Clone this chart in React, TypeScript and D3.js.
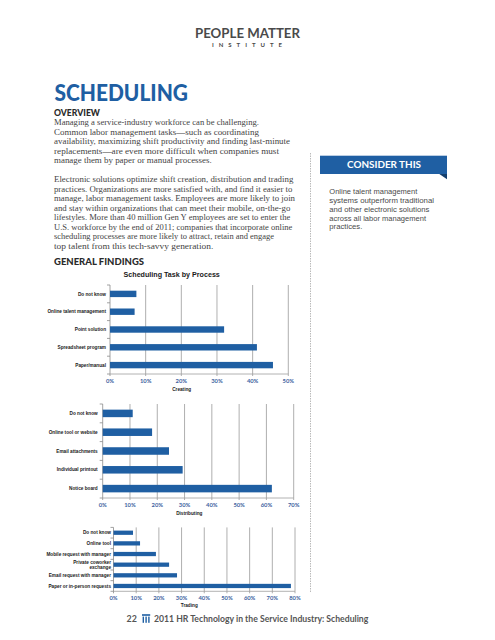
import React from "react";
import * as d3 from "d3";

// ---------- data ----------
const creatingCategories = ["Do not know", "Online talent management", "Point solution", "Spreadsheet program", "Paper/manual"];
const creatingValues = [7.4, 6.9, 32.0, 41.2, 45.7];
const creatingTicks = [0, 10, 20, 30, 40, 50];

const distributingCategories = ["Do not know", "Online tool or website", "Email attachments", "Individual printout", "Notice board"];
const distributingValues = [11.0, 18.1, 24.3, 29.3, 62.0];
const distributingTicks = [0, 10, 20, 30, 40, 50, 60, 70];

const tradingCategories = ["Do not know", "Online tool", "Mobile request with manager", "Private coworker exchange", "Email request with manager", "Paper or in-person requests"];
const tradingValues = [8.6, 11.7, 18.7, 24.5, 28.0, 78.2];
const tradingTicks = [0, 10, 20, 30, 40, 50, 60, 70, 80];
const tradingLabelLines: Record<string, string[]> = { "Private coworker exchange": ["Private coworker", "exchange"] };

const overviewP1 = [
  "Managing a service-industry workforce can be challenging.",
  "Common labor management tasks\u2014such as coordinating",
  "availability, maximizing shift productivity and finding last-minute",
  "replacements\u2014are even more difficult when companies must",
  "manage them by paper or manual processes.",
];
const overviewP2 = [
  "Electronic solutions optimize shift creation, distribution and trading",
  "practices. Organizations are more satisfied with, and find it easier to",
  "manage, labor management tasks. Employees are more likely to join",
  "and stay within organizations that can meet their mobile, on-the-go",
  "lifestyles. More than 40 million Gen Y employees are set to enter the",
  "U.S. workforce by the end of 2011; companies that incorporate online",
  "scheduling processes are more likely to attract, retain and engage",
  "top talent from this tech-savvy generation.",
];
const considerLines = [
  "Online talent management",
  "systems outperform traditional",
  "and other electronic solutions",
  "across all labor management",
  "practices.",
];

// ---------- layout (widths of text lines) ----------
const p1Widths = [205, 205, 236, 225, 157.7];
const p2Widths = [239.3, 238.3, 241, 236.3, 236.3, 238.3, 220, 159.3];
const considerWidths = [88, 104.7, 100, 96.7, 33];

const BLUE = "#1f5fa3";
const DARK_BLUE = "#143f6e";
const TICK_COLOR = "#3d62a0";
const SANS = "'Liberation Sans', Arial, sans-serif";
const HEAD = "Lato, 'Liberation Sans', sans-serif";
const SERIF = "'Liberation Serif', 'Times New Roman', serif";

type ChartProps = {
  categories: string[];
  values: number[];
  ticks: number[];
  x0: number;
  x1: number;
  y0: number;
  y1: number;
  pad: number;
  labelGap: number;
  xLabel: string;
  xLabelX: number;
  tickDy: number;
  xLabelDy: number;
  labelLines?: Record<string, string[]>;
};

function HBarChart(p: ChartProps) {
  const max = p.ticks[p.ticks.length - 1];
  const x = d3.scaleLinear().domain([0, max]).range([p.x0, p.x1]);
  const y = d3
    .scaleBand<string>()
    .domain(p.categories)
    .range([p.y0, p.y1])
    .paddingInner(p.pad)
    .paddingOuter(p.pad / 2);
  const step = y.step();
  const bw = y.bandwidth();
  return (
    <g>
      {p.ticks
        .filter((t) => t > 0)
        .map((t) => (
          <line key={"g" + t} x1={x(t)} x2={x(t)} y1={p.y0} y2={p.y1 + 2} stroke="#9a9a9a" strokeWidth={0.8} />
        ))}
      <line x1={p.x0} x2={p.x0} y1={p.y0} y2={p.y1 + 2} stroke="#8a8a8a" strokeWidth={0.8} />
      <line x1={p.x0} x2={p.x1} y1={p.y1} y2={p.y1} stroke="#a0a0a0" strokeWidth={0.8} />
      {d3.range(p.categories.length + 1).map((i) => (
        <line key={"lt" + i} x1={p.x0 - 3} x2={p.x0} y1={p.y0 + step * i} y2={p.y0 + step * i} stroke="#8a8a8a" strokeWidth={0.8} />
      ))}
      {p.categories.map((c, i) => (
        <rect key={"b" + c} x={x(0)} y={y(c)} width={x(p.values[i]) - x(0)} height={bw} fill={BLUE} />
      ))}
      {p.categories.map((c) => {
        const cy = (y(c) as number) + bw / 2;
        const lines = (p.labelLines && p.labelLines[c]) || [c];
        const lh = 5.4;
        return (
          <text key={"l" + c} fontFamily={SANS} fontWeight="bold" fontSize={4.7} fill="#1a1a1a" textAnchor="end">
            {lines.map((ln, k) => (
              <tspan key={k} x={p.x0 - p.labelGap} y={cy + 1.6 + (k - (lines.length - 1) / 2) * lh}>
                {ln}
              </tspan>
            ))}
          </text>
        );
      })}
      {p.ticks.map((t) => (
        <text key={"t" + t} x={x(t)} y={p.y1 + p.tickDy} fontFamily={HEAD} fontWeight="bold" fontSize={5.8} fill={TICK_COLOR} textAnchor="middle">
          {t + "%"}
        </text>
      ))}
      <text x={p.xLabelX} y={p.y1 + p.xLabelDy} fontFamily={SANS} fontWeight="bold" fontSize={4.7} fill="#1a1a1a" textAnchor="middle">
        {p.xLabel}
      </text>
    </g>
  );
}

export default function App() {
  return (
    <svg width={495} height={640} style={{ position: "absolute", left: 0, top: 0, background: "#fff" }}>
      <rect x={0} y={0} width={495} height={640} fill="#fff" />
      {/* logo */}
      <text x={195} y={38} fontFamily={HEAD} fontWeight="bold" fontSize={13.5} fill="#4a4a4a" textLength={105} lengthAdjust="spacingAndGlyphs">
        PEOPLE MATTER
      </text>
      <text x={212} y={47.2} fontFamily={HEAD} fontWeight="bold" fontSize={6} fill="#4a4a4a" textLength={70} lengthAdjust="spacing">
        INSTITUTE
      </text>

      {/* headings */}
      <text x={54.5} y={100.5} fontFamily={HEAD} fontWeight="900" fontSize={23.5} fill={BLUE} textLength={133.5} lengthAdjust="spacingAndGlyphs">
        SCHEDULING
      </text>
      <text x={54} y={116} fontFamily={HEAD} fontWeight="900" fontSize={9.6} fill="#2a2a2a" textLength={46} lengthAdjust="spacingAndGlyphs">
        OVERVIEW
      </text>
      {overviewP1.map((ln, i) => (
        <text key={"p1" + i} x={54} y={125.4 + i * 9.5} fontFamily={SERIF} fontSize={8.8} fill="#444" textLength={p1Widths[i]} lengthAdjust="spacingAndGlyphs">
          {ln}
        </text>
      ))}
      {overviewP2.map((ln, i) => (
        <text key={"p2" + i} x={54} y={182 + i * 9.55} fontFamily={SERIF} fontSize={8.8} fill="#444" textLength={p2Widths[i]} lengthAdjust="spacingAndGlyphs">
          {ln}
        </text>
      ))}
      <text x={54} y={265.2} fontFamily={HEAD} fontWeight="900" fontSize={9.6} fill="#2a2a2a" textLength={90} lengthAdjust="spacingAndGlyphs">
        GENERAL FINDINGS
      </text>

      {/* divider */}
      <line x1={310.5} x2={310.5} y1={153} y2={593} stroke="#a8a8a8" strokeWidth={0.8} strokeDasharray="1.5 1" />

      {/* consider this */}
      <rect x={320} y={155.7} width={127} height={18.3} fill={BLUE} />
      <path d="M439.3,174 L447,174 L447,179.3 Z" fill={DARK_BLUE} />
      <text x={347} y={167.8} fontFamily={HEAD} fontWeight="bold" fontSize={8.6} fill="#fff" textLength={74} lengthAdjust="spacingAndGlyphs">
        CONSIDER THIS
      </text>
      {considerLines.map((ln, i) => (
        <text key={"c" + i} x={329.3} y={194.4 + i * 8.75} fontFamily={SANS} fontSize={7.6} fill="#4a4a4a" textLength={considerWidths[i]} lengthAdjust="spacingAndGlyphs">
          {ln}
        </text>
      ))}

      {/* chart title */}
      <text x={171.7} y={276.8} fontFamily={SANS} fontWeight="bold" fontSize={7.15} fill="#1a1a1a" textAnchor="middle">
        Scheduling Task by Process
      </text>

      <HBarChart
        categories={creatingCategories}
        values={creatingValues}
        ticks={creatingTicks}
        x0={110}
        x1={288.3}
        y0={285}
        y1={374}
        pad={0.64}
        labelGap={4}
        xLabel="Creating"
        xLabelX={181.7}
        tickDy={9.2}
        xLabelDy={16.8}
      />
      <HBarChart
        categories={distributingCategories}
        values={distributingValues}
        ticks={distributingTicks}
        x0={102.7}
        x1={293.7}
        y0={404}
        y1={498}
        pad={0.6}
        labelGap={5}
        xLabel="Distributing"
        xLabelX={189.3}
        tickDy={9}
        xLabelDy={17}
      />
      <HBarChart
        categories={tradingCategories}
        values={tradingValues}
        ticks={tradingTicks}
        x0={113.5}
        x1={295}
        y0={527.4}
        y1={591.3}
        pad={0.6}
        labelGap={2.5}
        xLabel="Trading"
        xLabelX={189.3}
        tickDy={9}
        xLabelDy={15.3}
        labelLines={tradingLabelLines}
      />

      {/* footer */}
      <text x={126.5} y={622.3} fontFamily={HEAD} fontWeight="bold" fontSize={8.6} fill="#555" textLength={10.3} lengthAdjust="spacingAndGlyphs">
        22
      </text>
      <g fill={BLUE}>
        <rect x={142} y={614.2} width={8.2} height={1.6} />
        <rect x={142.6} y={616.6} width={1.4} height={6.2} />
        <rect x={145.4} y={616.6} width={1.4} height={6.2} />
        <rect x={148.2} y={616.6} width={1.4} height={6.2} />
      </g>
      <text x={154} y={622.3} fontFamily={HEAD} fontWeight="bold" fontSize={8.6} fill="#555" textLength={214.3} lengthAdjust="spacingAndGlyphs">
        2011 HR Technology in the Service Industry: Scheduling
      </text>
    </svg>
  );
}
